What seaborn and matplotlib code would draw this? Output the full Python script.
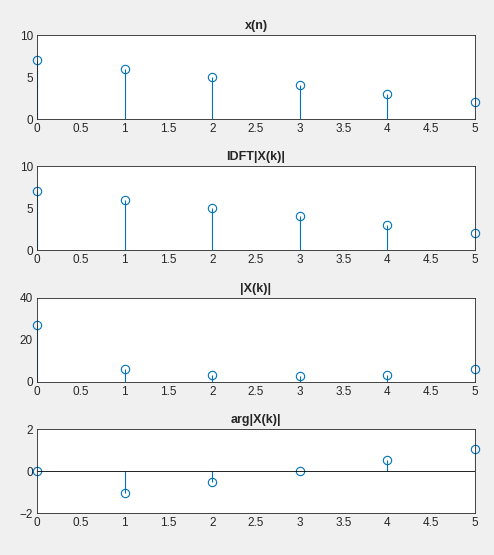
import matplotlib
matplotlib.use("Agg")
import matplotlib.pyplot as plt
import seaborn as sns

n = [0, 1, 2, 3, 4, 5]
x_n = [7, 6, 5, 4, 3, 2]
idft_x = [7, 6, 5, 4, 3, 2]
mag_X = [27, 6.0, 3.464, 3.0, 3.464, 6.0]
arg_X = [0, -1.047, -0.524, 0, 0.524, 1.047]

titles = ["x(n)", "IDFT|X(k)|", "|X(k)|", "arg|X(k)|"]
series = [x_n, idft_x, mag_X, arg_X]
ylims = [(0, 10), (0, 10), (0, 40), (-2, 2)]
yticks = [[0, 5, 10], [0, 5, 10], [0, 20, 40], [-2, 0, 2]]

sns.set_style("white")
plt.rcParams['font.family'] = ['Liberation Sans', 'DejaVu Sans']

blue = "#0072BD"
fig = plt.figure(figsize=(4.94, 5.55), dpi=100, facecolor="#f0f0f0")
tops = [35, 166, 298, 429]
for i, top in enumerate(tops):
    ax = fig.add_axes([37 / 494, 1 - (top + 84) / 555, 438 / 494, 84 / 555])
    ml, sl, bl = ax.stem(n, series[i], basefmt="k-")
    plt.setp(ml, color=blue, markerfacecolor="none", markersize=6, markeredgewidth=0.8, clip_on=False)
    plt.setp(sl, color=blue, linewidth=0.8)
    plt.setp(bl, color="black", linewidth=0.6)
    ax.set_xlim(0, 5)
    ax.set_ylim(*ylims[i])
    ax.set_xticks([0, 0.5, 1, 1.5, 2, 2.5, 3, 3.5, 4, 4.5, 5])
    ax.set_xticklabels(["0", "0.5", "1", "1.5", "2", "2.5", "3", "3.5", "4", "4.5", "5"])
    ax.set_yticks(yticks[i])
    ax.tick_params(direction="in", length=3, width=0.5, colors="#262626", labelsize=8.5, pad=3)
    for s in ax.spines.values():
        s.set_color("#262626")
        s.set_linewidth(0.6)
    ax.set_title(titles[i], fontsize=9, fontweight="bold", pad=4)

fig.savefig("out.png", dpi=100, facecolor=fig.get_facecolor())
